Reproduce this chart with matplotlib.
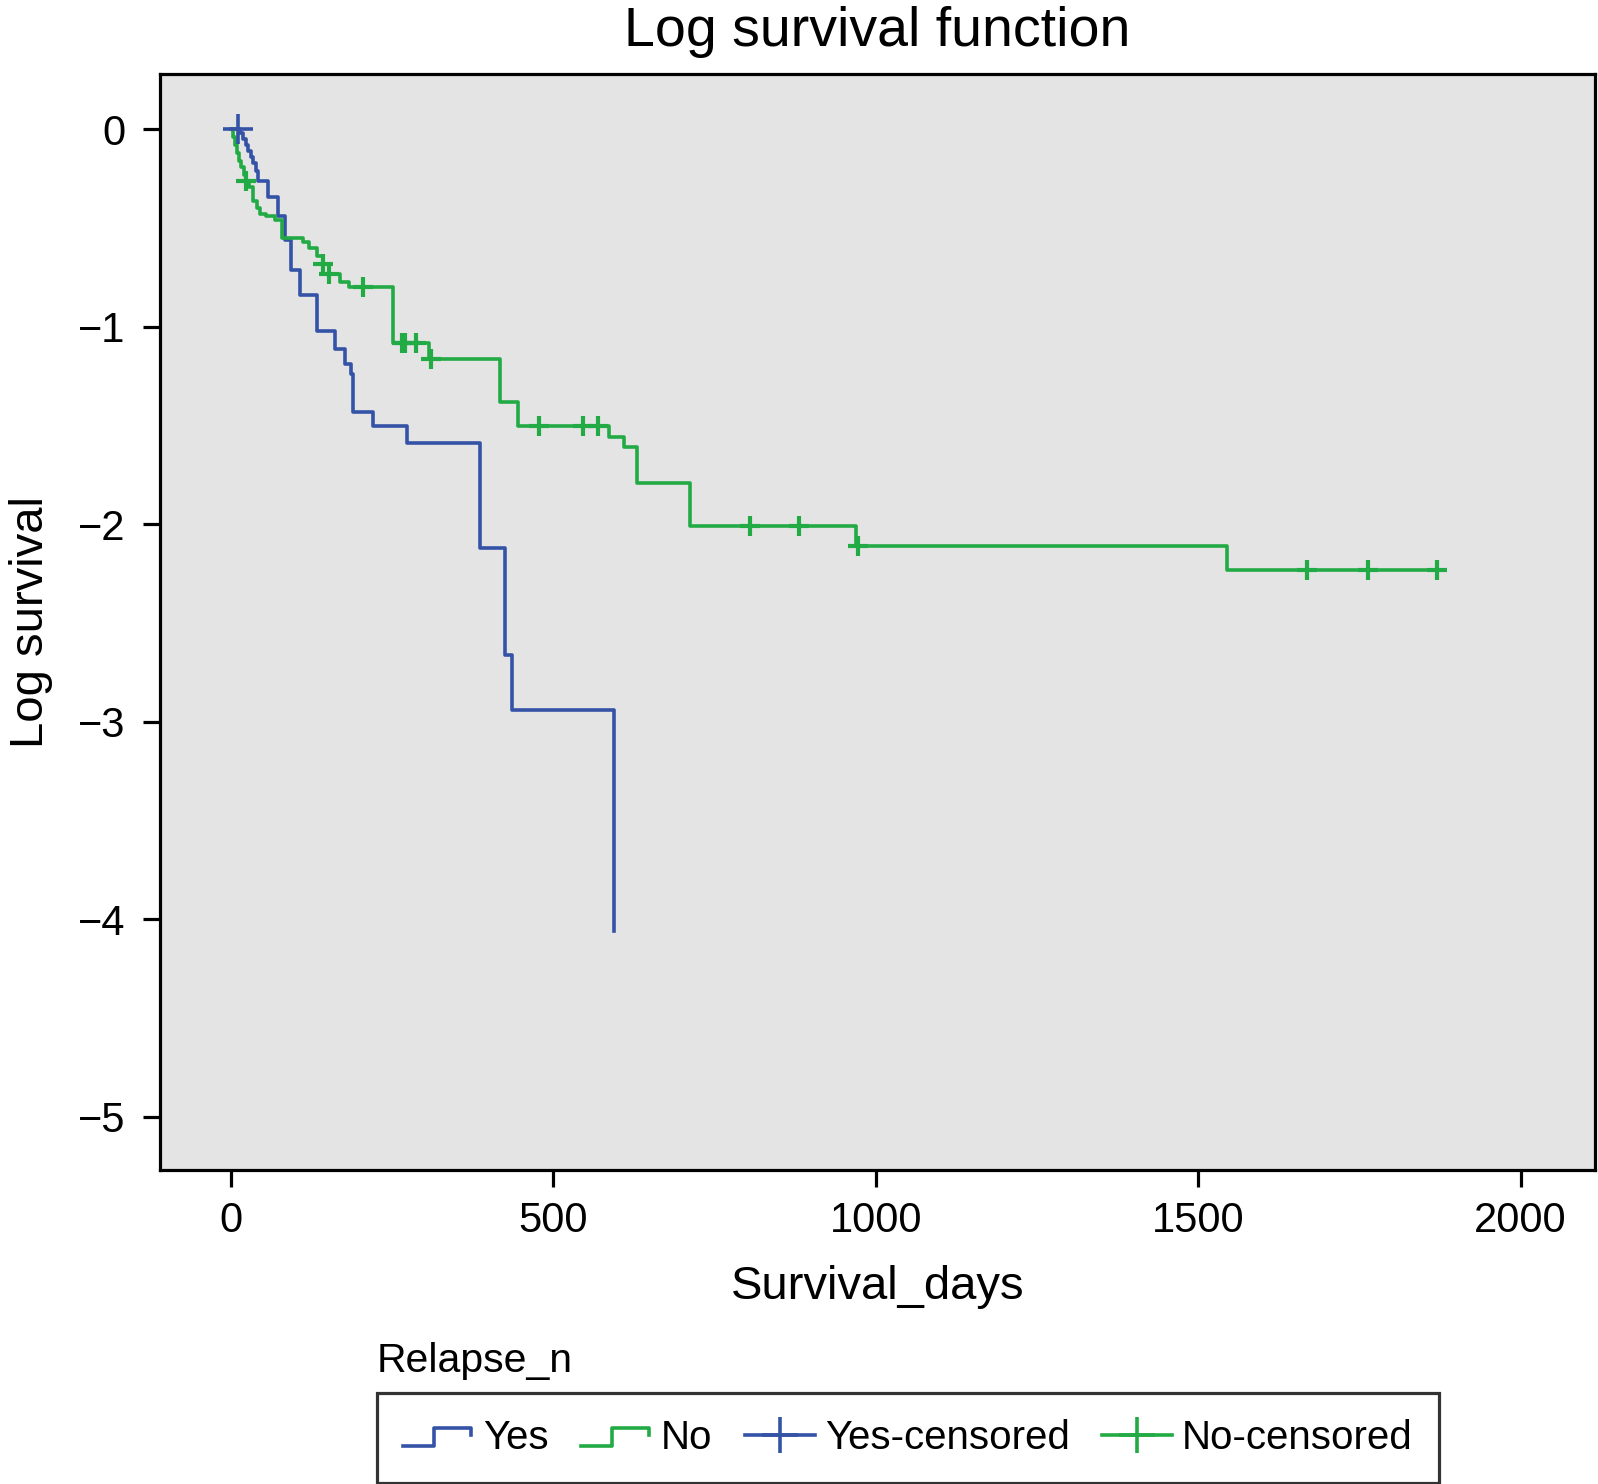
import matplotlib
matplotlib.use("Agg")
import matplotlib.pyplot as plt
from matplotlib.lines import Line2D
from matplotlib.legend_handler import HandlerBase
import numpy as np

plt.rcParams.update({'font.family': ['Liberation Sans', 'DejaVu Sans']})

# relapse = Yes
yes_t = [0, 15, 19, 23, 27, 31, 35, 39, 42, 58, 73, 84, 94, 107, 133, 161, 177, 187,
         190, 220, 273, 386, 425, 436, 594]
yes_logs = [0, -0.02, -0.05, -0.08, -0.11, -0.14, -0.17, -0.21, -0.26, -0.34, -0.44,
            -0.56, -0.71, -0.84, -1.02, -1.11, -1.19, -1.24, -1.43, -1.50, -1.59, -2.12,
            -2.66, -2.94, -4.06]
yes_cens = [11]

# relapse = No
no_t = [0, 4, 7, 10, 13, 16, 20, 24, 29, 34, 40, 45, 55, 68, 79, 112, 122, 133, 143,
        153, 169, 184, 251, 307, 418, 446, 587, 609, 630, 712, 970, 1544, 1870]
no_logs = [0, -0.04, -0.08, -0.12, -0.16, -0.19, -0.23, -0.26, -0.29, -0.36, -0.40,
           -0.43, -0.44, -0.46, -0.55, -0.57, -0.60, -0.64, -0.68, -0.73, -0.77, -0.80,
           -1.08, -1.16, -1.38, -1.50, -1.56, -1.61, -1.79, -2.01, -2.11, -2.23, -2.23]
no_cens = [24, 143, 153, 205, 266, 270, 288, 310, 478, 546, 570, 805, 881, 973,
           1668, 1763, 1870]

blue = '#3452a6'
green = '#22aa44'


def level_at(t, y, c):
    idx = np.searchsorted(t, c, side='right') - 1
    return np.asarray(y)[idx]


class StepIcon(HandlerBase):
    def create_artists(self, legend, orig_handle, xdescent, ydescent, width, height,
                       fontsize, trans):
        x0, y0 = -xdescent, -ydescent
        xs = [x0, x0 + 0.45 * width, x0 + 0.45 * width, x0 + 0.97 * width, x0 + 0.97 * width]
        ys = [y0 + 0.1 * height, y0 + 0.1 * height, y0 + 0.75 * height,
              y0 + 0.75 * height, y0 + 0.5 * height]
        ln = Line2D(xs, ys, color=orig_handle.get_color(), lw=orig_handle.get_linewidth())
        ln.set_transform(trans)
        return [ln]


fig = plt.figure(figsize=(15.98, 14.84), dpi=100)
ax = fig.add_axes([0.100, 0.2116, 0.898, 0.7384])
ax.set_facecolor('#e4e4e4')

ax.step(yes_t, yes_logs, where='post', color=blue, lw=2.6)
ax.step(no_t, no_logs, where='post', color=green, lw=2.6)
ax.plot(yes_cens, level_at(yes_t, yes_logs, yes_cens), ls='none', marker='+',
        ms=22, mew=2.6, color=blue)
ax.plot(no_cens, level_at(no_t, no_logs, no_cens), ls='none', marker='+',
        ms=15, mew=3.0, color=green)

ax.set_xlim(-110, 2115)
ax.set_ylim(-5.27, 0.28)
ax.set_xticks([0, 500, 1000, 1500, 2000])
ax.set_yticks([0, -1, -2, -3, -4, -5])
for s in ax.spines.values():
    s.set_linewidth(2.3)
ax.tick_params(axis='both', length=12.5, width=2.3, labelsize=30)
ax.tick_params(axis='x', pad=10)
ax.tick_params(axis='y', pad=12)

ax.set_title('Log survival function', fontsize=40, pad=20)
ax.set_xlabel('Survival_days', fontsize=34, labelpad=17)
ax.set_ylabel('Log survival', fontsize=34, labelpad=18)

handles = [Line2D([], [], color=blue, lw=2.6), Line2D([], [], color=green, lw=2.6),
           Line2D([], [], color=blue, lw=2.6, marker='+', ms=26, mew=2.6),
           Line2D([], [], color=green, lw=2.6, marker='+', ms=26, mew=2.6)]
labels = ['Yes', 'No', 'Yes-censored', 'No-censored']
leg = fig.legend(handles, labels, loc='lower left', bbox_to_anchor=(377 / 1598, 0.0007),
                 ncol=4, fontsize=29, frameon=True, fancybox=False, edgecolor='black',
                 handlelength=1.74, handletextpad=0.25, columnspacing=0.8,
                 borderpad=0.64, borderaxespad=0,
                 handler_map={handles[0]: StepIcon(), handles[1]: StepIcon()})
leg.get_frame().set_linewidth(2.3)
fig.text(377 / 1598, 1 - 1361 / 1484, 'Relapse_n', fontsize=29.5, va='center', ha='left')

fig.savefig('out.png', dpi=100)
